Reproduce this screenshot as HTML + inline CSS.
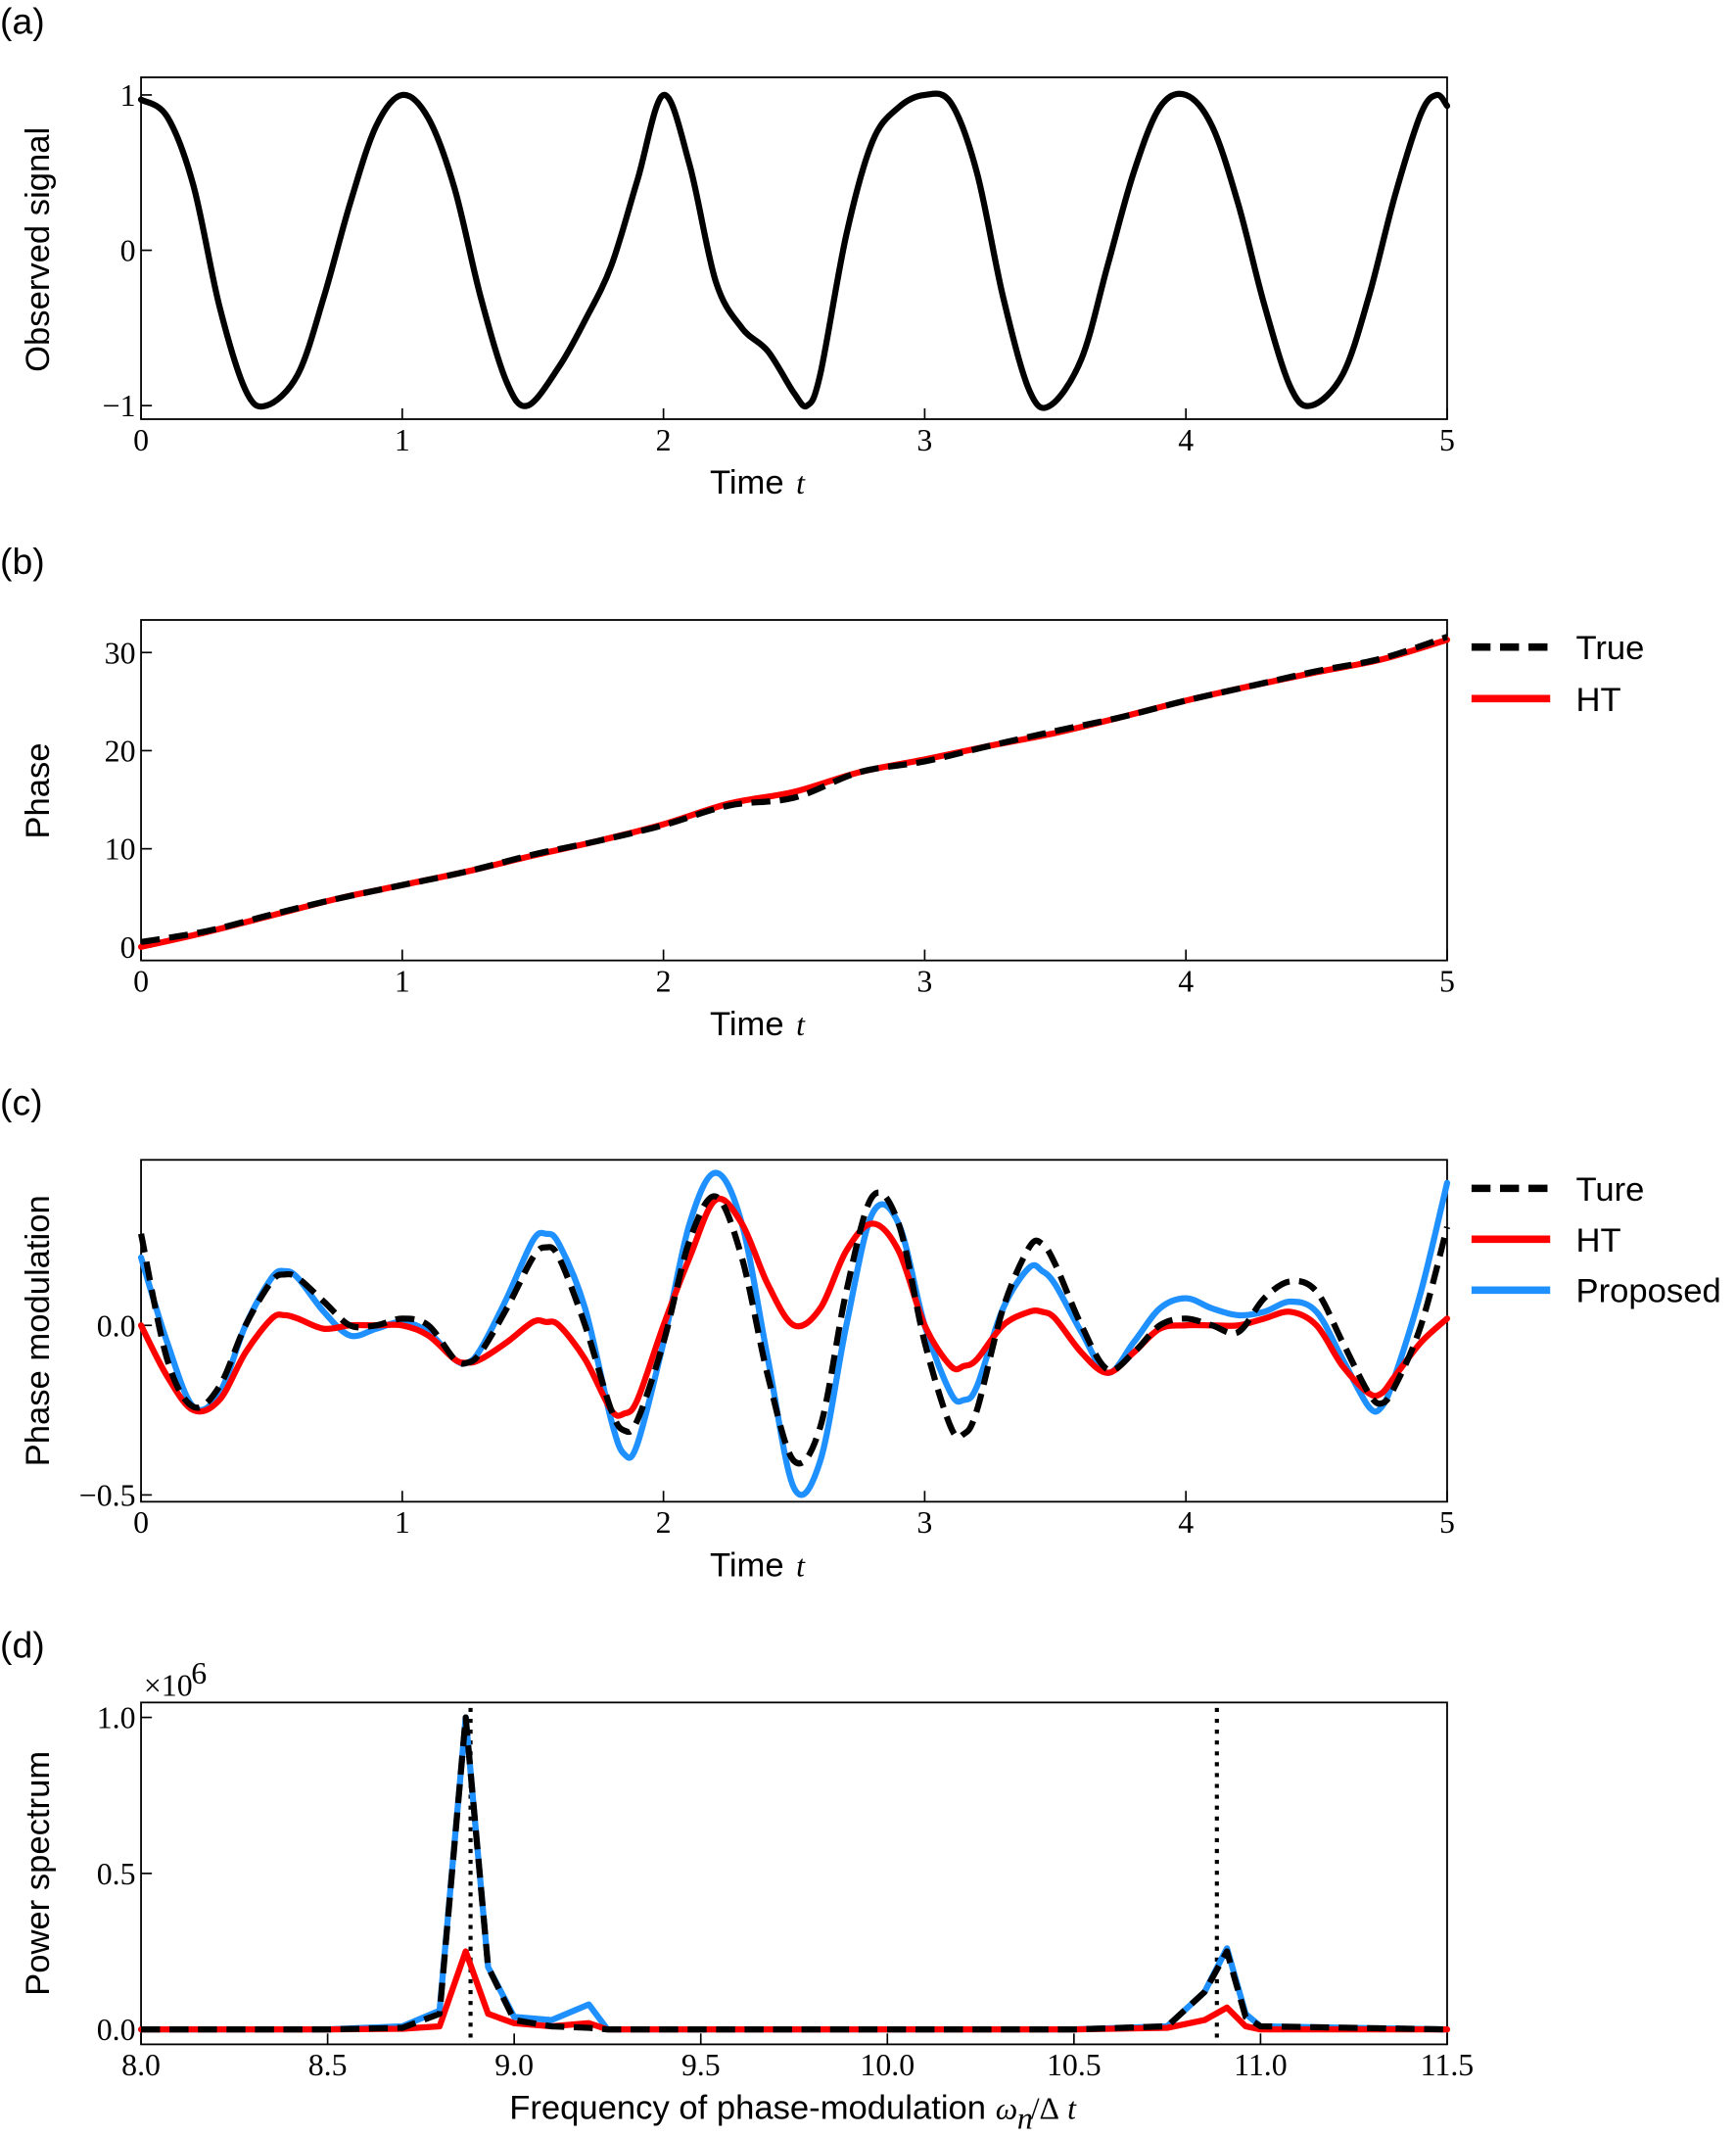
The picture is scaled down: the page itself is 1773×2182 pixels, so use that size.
<!DOCTYPE html>
<html><head><meta charset="utf-8"><style>
html,body{margin:0;padding:0;background:#fff}
svg{display:block}
.tk{font-family:"Liberation Serif",serif;font-size:23px;fill:#000}
.lb{font-family:"Liberation Sans",sans-serif;font-size:25px;fill:#000}
.pl{font-family:"Liberation Sans",sans-serif;font-size:27px;fill:#000}
</style></head><body>
<svg id="fig" width="1773" height="2182" viewBox="0 0 1280 1575.3" preserveAspectRatio="none" xmlns="http://www.w3.org/2000/svg"></svg>
<script>
// ---- Panel (a) data ----
const aTimes=[0,0.1,0.2,0.3,0.4,0.48,0.6,0.7,0.8,0.9,1.0,1.1,1.2,1.3,1.4,1.48,1.6,1.7,1.8,1.9,2.0,2.1,2.2,2.3,2.4,2.5,2.55,2.6,2.7,2.8,2.9,3.0,3.1,3.2,3.3,3.4,3.48,3.6,3.7,3.8,3.9,4.0,4.1,4.2,4.3,4.4,4.48,4.6,4.7,4.8,4.9,4.96,5.0];
const aSignal=[0.97,0.86,0.42,-0.36,-0.9,-1.0,-0.8,-0.3,0.3,0.8,1.0,0.85,0.4,-0.3,-0.85,-1.0,-0.75,-0.45,-0.1,0.45,1.0,0.55,-0.2,-0.5,-0.65,-0.92,-1.0,-0.8,0.1,0.7,0.92,1.0,0.95,0.5,-0.3,-0.9,-1.0,-0.7,-0.1,0.5,0.92,1.0,0.8,0.3,-0.35,-0.88,-1.0,-0.8,-0.3,0.35,0.88,1.0,0.93];
const aYTicks=[-1,0,1];const aYLabels=["\u22121","0","1"];
// ---- Panel (b) data ----
const bTimes=[0,0.25,0.5,0.75,1,1.25,1.5,1.75,2,2.25,2.5,2.75,3,3.25,3.5,3.75,4,4.25,4.5,4.75,5];
const bTrue=[0.5,1.6,3.3,4.9,6.3,7.7,9.4,10.8,12.4,14.4,15.2,17.8,18.9,20.5,22.0,23.4,25.1,26.6,28.1,29.4,31.6];
const bHT=[0.0,1.5,3.2,4.9,6.3,7.7,9.3,10.8,12.5,14.6,15.8,17.8,19.1,20.5,21.8,23.4,25.1,26.6,28.0,29.3,31.3];
const bYTicks=[0,10,20,30];const bYLabels=["0","10","20","30"];
// ---- Panel (c) data ----
const cTimes=[0,0.1,0.2,0.3,0.4,0.5,0.55,0.6,0.7,0.8,0.9,1.0,1.1,1.2,1.25,1.3,1.4,1.5,1.55,1.6,1.7,1.8,1.85,1.9,2.0,2.1,2.2,2.3,2.4,2.5,2.6,2.7,2.8,2.9,3.0,3.1,3.15,3.2,3.3,3.4,3.45,3.5,3.6,3.7,3.8,3.9,4.0,4.1,4.2,4.3,4.4,4.5,4.6,4.7,4.75,4.8,4.9,5.0];
const cTrue=[0.27,-0.1,-0.24,-0.18,0.0,0.13,0.15,0.14,0.07,0.0,0.0,0.02,0.0,-0.1,-0.11,-0.08,0.05,0.2,0.23,0.2,0.0,-0.25,-0.31,-0.28,-0.05,0.25,0.38,0.2,-0.15,-0.4,-0.3,0.1,0.38,0.3,-0.05,-0.3,-0.32,-0.25,0.05,0.23,0.24,0.18,0.0,-0.13,-0.08,0.0,0.02,0.0,-0.02,0.08,0.13,0.1,-0.05,-0.2,-0.23,-0.18,0.0,0.29];
const cHT=[0.0,-0.15,-0.25,-0.22,-0.08,0.02,0.03,0.02,-0.01,0.0,0.0,0.0,-0.03,-0.1,-0.11,-0.1,-0.05,0.01,0.01,0.0,-0.1,-0.25,-0.26,-0.22,0.0,0.2,0.37,0.3,0.12,0.0,0.05,0.22,0.3,0.22,0.0,-0.12,-0.12,-0.1,0.0,0.04,0.04,0.02,-0.08,-0.14,-0.08,-0.01,0.0,0.0,0.0,0.02,0.04,0.0,-0.12,-0.2,-0.2,-0.15,-0.05,0.02];
const cProp=[0.2,-0.05,-0.24,-0.2,0.0,0.14,0.16,0.14,0.04,-0.03,-0.01,0.01,-0.02,-0.1,-0.11,-0.07,0.08,0.25,0.27,0.24,0.05,-0.28,-0.38,-0.35,-0.05,0.3,0.45,0.3,-0.1,-0.48,-0.4,0.0,0.33,0.3,0.0,-0.2,-0.22,-0.18,0.05,0.17,0.16,0.12,-0.02,-0.14,-0.05,0.05,0.08,0.05,0.03,0.04,0.07,0.04,-0.1,-0.24,-0.24,-0.15,0.1,0.42];
const cYTicks=[-0.5,0];const cYLabels=["\u22120.5","0.0"];
// ---- Panel (d) data ----
const dFreq=[8.0,8.5,8.7,8.8,8.87,8.93,9.0,9.1,9.2,9.25,9.5,10.5,10.75,10.85,10.91,10.96,11.0,11.5];
const dTrue=[0,0,0.005,0.05,1.0,0.2,0.03,0.01,0.005,0,0,0,0.01,0.12,0.25,0.04,0.01,0];
const dProp=[0,0,0.01,0.06,1.0,0.2,0.04,0.03,0.08,0,0,0,0.01,0.12,0.26,0.05,0.01,0];
const dHT=[0,0,0.002,0.01,0.25,0.05,0.02,0.01,0.02,0,0,0,0.005,0.03,0.07,0.01,0,0];
const dMarkers=[8.883,10.883];
const dXTicks=[8.0,8.5,9.0,9.5,10.0,10.5,11.0,11.5];
const dYTicks=[0,0.5,1.0];const dYLabels=["0.0","0.5","1.0"];
const tTicks=[0,1,2,3,4,5];

const NS="http://www.w3.org/2000/svg";
const svg=document.getElementById('fig');
function el(tag,attrs,parent){const e=document.createElementNS(NS,tag);for(const k in attrs)e.setAttribute(k,attrs[k]);(parent||svg).appendChild(e);return e;}
function txt(s,x,y,cls,anchor,parent){const t=el('text',{x:x,y:y,class:cls,'text-anchor':anchor||'middle'},parent);t.textContent=s;return t;}
function spline(pts){let d='M'+pts[0][0].toFixed(2)+','+pts[0][1].toFixed(2);
 for(let i=0;i<pts.length-1;i++){const p0=pts[Math.max(i-1,0)],p1=pts[i],p2=pts[i+1],p3=pts[Math.min(i+2,pts.length-1)];
  const c1=[p1[0]+(p2[0]-p0[0])/6,p1[1]+(p2[1]-p0[1])/6],c2=[p2[0]-(p3[0]-p1[0])/6,p2[1]-(p3[1]-p1[1])/6];
  d+='C'+c1[0].toFixed(2)+','+c1[1].toFixed(2)+' '+c2[0].toFixed(2)+','+c2[1].toFixed(2)+' '+p2[0].toFixed(2)+','+p2[1].toFixed(2);}
 return d;}
function linear(pts){return 'M'+pts.map(p=>p[0].toFixed(2)+','+p[1].toFixed(2)).join('L');}
const L=104,R=1067;
function axes(name,top,bot,xs,ys,xt,xl,yt,yl){
 const g=el('g',{});
 
 
 const f=el('rect',{x:L,y:top,width:R-L,height:bot-top,fill:'none',stroke:'#000','stroke-width':1.3},g);
 
 
 xt.forEach((v,i)=>{const x=xs(v);el('line',{x1:x,x2:x,y1:bot,y2:bot-8,stroke:'#000','stroke-width':1.2},g);
  const t=txt(xl[i],x,bot+23,'tk','middle',g);
  
  });
 yt.forEach((v,i)=>{const y=ys(v);el('line',{x1:L,x2:L+8,y1:y,y2:y,stroke:'#000','stroke-width':1.2},g);
  const t=txt(yl[i],L-4,y+8,'tk','end',g);
  
  });
 return g;}
function path(d,color,w,dash,name,g){const p=el('path',{d:d,fill:'none',stroke:color,'stroke-width':w,'stroke-linejoin':'round','stroke-linecap':dash?'butt':'round'},g);if(dash)p.setAttribute('stroke-dasharray',dash);
 
 
 return p;}
function legend(items,x,y0,dy){const g=el('g',{});
 
 
 items.forEach((it,i)=>{const y=y0+i*dy;const ln=el('line',{x1:x,x2:x+58,y1:y,y2:y,stroke:it[1],'stroke-width':5.5},g);if(it[2])ln.setAttribute('stroke-dasharray',it[2]);
  const t=txt(it[0],x+77,y+9,'lb','start',g);
  
  });}
function timeLabel(y){const xl=txt('Time',578,y,'lb','end');
 txt('t',587,y,'tk','start').setAttribute('font-style','italic');}
const tx=t=>L+(R-L)*t/5;
const tLabels=tTicks.map(String);

// (a)
{const top=57,bot=309;const ys=v=>184.5-v*114.5;
 const g=axes('panel-a-observed-signal',top,bot,tx,ys,tTicks,tLabels,aYTicks,aYLabels);
 path(spline(aTimes.map((t,i)=>[tx(t),ys(aSignal[i])])),'#000',4.5,null,'signal-line',g);
 const pl=txt('(a)',0,25,'pl','start');
 timeLabel(364);
 const yl=txt('Observed signal',36,184,'lb','middle');yl.setAttribute('transform','rotate(-90 36 184)');}
// (b)
{const top=457,bot=708;const ys=v=>698-v*7.233;
 const g=axes('panel-b-phase',top,bot,tx,ys,tTicks,tLabels,bYTicks,bYLabels);
 path(spline(bTimes.map((t,i)=>[tx(t),ys(bHT[i])])),'#f00',4.5,null,'ht-line',g);
 path(spline(bTimes.map((t,i)=>[tx(t),ys(bTrue[i])])),'#000',4.5,'14 7','true-line',g);
 legend([['True','#000','14 7'],['HT','#f00',null]],1085,477,38);
 const pl=txt('(b)',0,423,'pl','start');
 timeLabel(763);
 const yl=txt('Phase',36,583,'lb','middle');yl.setAttribute('transform','rotate(-90 36 583)');}
// (c)
{const top=855,bot=1107;const ys=v=>977-v*250;
 const g=axes('panel-c-phase-modulation',top,bot,tx,ys,tTicks,tLabels,cYTicks,cYLabels);
 path(spline(cTimes.map((t,i)=>[tx(t),ys(cProp[i])])),'#1e90ff',4.5,null,'proposed-line',g);
 path(spline(cTimes.map((t,i)=>[tx(t),ys(cHT[i])])),'#f00',4.5,null,'ht-line',g);
 path(spline(cTimes.map((t,i)=>[tx(t),ys(cTrue[i])])),'#000',4.5,'14 7','true-line',g);
 legend([['Ture','#000','14 7'],['HT','#f00',null],['Proposed','#1e90ff',null]],1085,876,37.5);
 const pl=txt('(c)',0,822,'pl','start');
 timeLabel(1162);
 const yl=txt('Phase modulation',36,981,'lb','middle');yl.setAttribute('transform','rotate(-90 36 981)');}
// (d)
{const top=1255,bot=1507;const xs=v=>L+(v-8)*(R-L)/3.5;const ys=v=>1496-v*230;
 const g=axes('panel-d-power-spectrum',top,bot,xs,ys,dXTicks,dXTicks.map(v=>v.toFixed(1)),dYTicks,dYLabels);
 dMarkers.forEach(m=>{const ln=el('line',{x1:xs(m),x2:xs(m),y1:top+4,y2:bot,stroke:'#000','stroke-width':3,'stroke-dasharray':'3 5'},g);
  
  });
 path(linear(dFreq.map((f,i)=>[xs(f),ys(dProp[i])])),'#1e90ff',4.5,null,'proposed-line',g);
 path(linear(dFreq.map((f,i)=>[xs(f),ys(dHT[i])])),'#f00',4.5,null,'ht-line',g);
 path(linear(dFreq.map((f,i)=>[xs(f),ys(dTrue[i])])),'#000',4.5,'14 7','true-line',g);
 const ex=txt('\u00d710',106,1250,'tk','start');
 txt('6',141,1241,'tk','start').setAttribute('font-size','15');
 const pl=txt('(d)',0,1222,'pl','start');
 const xl=txt('Frequency of phase-modulation',727,1562,'lb','end');
 txt('\u03c9',734,1562,'tk','start').setAttribute('font-style','italic');
 const sub=txt('n',750,1569,'tk','start');sub.setAttribute('font-size','16');sub.setAttribute('font-style','italic');
 txt('/\u0394',760,1562,'tk','start');
 txt('t',787,1562,'tk','start').setAttribute('font-style','italic');
 const yl=txt('Power spectrum',36,1381,'lb','middle');yl.setAttribute('transform','rotate(-90 36 1381)');}
</script>
</body></html>
